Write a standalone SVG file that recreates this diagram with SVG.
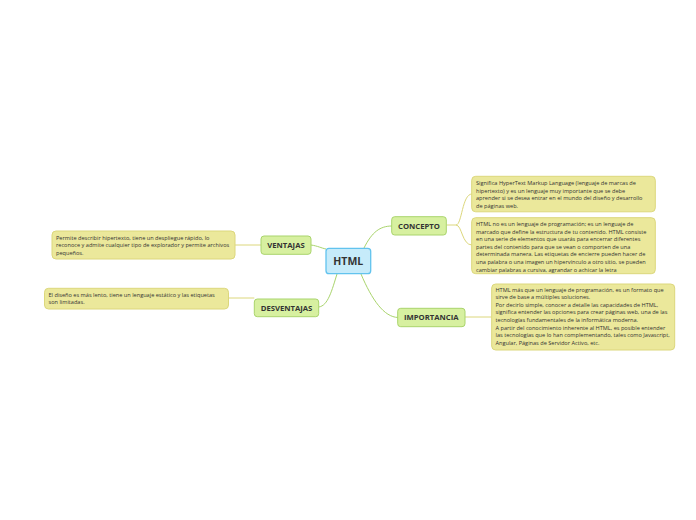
<svg xmlns="http://www.w3.org/2000/svg" width="696" height="520" viewBox="0 0 696 520">
<style>
.bg{fill:#ffffff}
.main rect{fill:#c6ebfa;stroke:#62c3ee;stroke-width:1.3}
.sub rect{fill:#d7f0a0;stroke:#a9d46c;stroke-width:1}
.note rect{fill:#ebe89b;stroke:#dcd77c;stroke-width:1}
.lbl{font-family:"Open Sans","Noto Sans","Liberation Sans",sans-serif;font-weight:bold;fill:#333333;text-anchor:middle}
.txt{font-family:"Open Sans","Noto Sans","Liberation Sans",sans-serif;font-size:5.6px;fill:#333333}
.c1{fill:none;stroke:#a9d46c;stroke-width:1}
.c2{fill:none;stroke:#dcd77c;stroke-width:1}
</style>
<rect class="bg" x="0" y="0" width="696" height="520"/>
<g id="connectors">
<path class="c1" d="M364,248 C372,232 380,226 392,226"/>
<path class="c1" d="M311,245 C318,246 321,248 326,249"/>
<path class="c1" d="M337,274 C332,290 328,306 318.7,307"/>
<path class="c1" d="M361,274 C372,300 384,317 398,317.5"/>
<path class="c2" d="M446.5,225 L456,225 C462,225 462,194 472,194"/>
<path class="c2" d="M456,225 C462,225 462,245 472,245"/>
<path class="c2" d="M465,317 L491.5,317"/>
<path class="c2" d="M235,245 L261,245"/>
<path class="c2" d="M228.5,298 L254.3,298"/>
</g>
<g id="html" class="main">
<rect x="326" y="248.3" width="44.7" height="25.4" rx="3"/>
<text class="lbl" x="348.3" y="264.6" font-size="10.5">HTML</text>
</g>
<g id="concepto" class="sub">
<rect x="391.7" y="216.7" width="54.6" height="18.3" rx="3"/>
<text class="lbl" x="419" y="228.7" font-size="7.7">CONCEPTO</text>
</g>
<g id="ventajas" class="sub">
<rect x="261" y="236" width="50" height="18.3" rx="3"/>
<text class="lbl" x="286" y="248" font-size="7.7">VENTAJAS</text>
</g>
<g id="desventajas" class="sub">
<rect x="254.3" y="299" width="64.4" height="17.7" rx="3"/>
<text class="lbl" x="286.5" y="310.7" font-size="7.7">DESVENTAJAS</text>
</g>
<g id="importancia" class="sub">
<rect x="397.7" y="308.3" width="67.3" height="18.4" rx="3"/>
<text class="lbl" x="431.3" y="320.3" font-size="7.7">IMPORTANCIA</text>
</g>
<g id="nota-concepto-1" class="note">
<rect x="471.7" y="176.3" width="183.6" height="35.5" rx="4"/>
<text class="txt" x="476" y="185">
<tspan x="476" y="185">Significa HyperText Markup Language (lenguaje de marcas de</tspan>
<tspan x="476" y="192.6">hipertexto) y es un lenguaje muy importante que se debe</tspan>
<tspan x="476" y="200.2">aprender si se desea entrar en el mundo del diseño y  desarrollo</tspan>
<tspan x="476" y="207.8">de páginas web.</tspan>
</text>
</g>
<g id="nota-concepto-2" class="note">
<rect x="471.7" y="217.7" width="183.6" height="56" rx="4"/>
<text class="txt" x="476" y="226">
<tspan x="476" y="226">HTML no es un lenguaje de programación; es un lenguaje de</tspan>
<tspan x="476" y="233.6">marcado que define la estructura de tu contenido. HTML consiste</tspan>
<tspan x="476" y="241.2">en una serie de elementos que usarás para encerrar diferentes</tspan>
<tspan x="476" y="248.8">partes del contenido para que se vean o comporten de una</tspan>
<tspan x="476" y="256.4">determinada manera. Las etiquetas de encierre pueden hacer de</tspan>
<tspan x="476" y="264">una palabra o una imagen un hipervínculo a otro sitio, se pueden</tspan>
<tspan x="476" y="271.6">cambiar palabras a cursiva, agrandar o achicar la letra</tspan>
</text>
</g>
<g id="nota-importancia" class="note">
<rect x="491.7" y="284" width="183" height="66" rx="4"/>
<text class="txt" x="495.5" y="291.5">
<tspan x="495.5" y="291.5">HTML más que un lenguaje de programación, es un formato que</tspan>
<tspan x="495.5" y="299.1">sirve de base a múltiples soluciones.</tspan>
<tspan x="495.5" y="306.7">Por decirlo simple, conocer a detalle las capacidades de HTML,</tspan>
<tspan x="495.5" y="314.3">significa entender las opciones para crear páginas web, una de las</tspan>
<tspan x="495.5" y="321.9">tecnologías fundamentales de la informática moderna.</tspan>
<tspan x="495.5" y="329.5">A partir del conocimiento inherente al HTML, es posible entender</tspan>
<tspan x="495.5" y="337.1">las tecnologías que lo han complementando, tales como Javascript,</tspan>
<tspan x="495.5" y="344.7">Angular, Páginas de Servidor Activo, etc.</tspan>
</text>
</g>
<g id="nota-ventajas" class="note">
<rect x="52" y="231" width="183" height="28" rx="4"/>
<text class="txt" x="56" y="239.5">
<tspan x="56" y="239.5">Permite describir hipertexto, tiene un despliegue rápido, lo</tspan>
<tspan x="56" y="247.1">reconoce y admite cualquier tipo de explorador y permite archivos</tspan>
<tspan x="56" y="254.7">pequeños.</tspan>
</text>
</g>
<g id="nota-desventajas" class="note">
<rect x="44.5" y="288.3" width="184" height="20.7" rx="4"/>
<text class="txt" x="48.5" y="296.5">
<tspan x="48.5" y="296.5">El diseño es más lento, tiene un lenguaje estático y las etiquetas</tspan>
<tspan x="48.5" y="304.1">son limitadas.</tspan>
</text>
</g>
</svg>
